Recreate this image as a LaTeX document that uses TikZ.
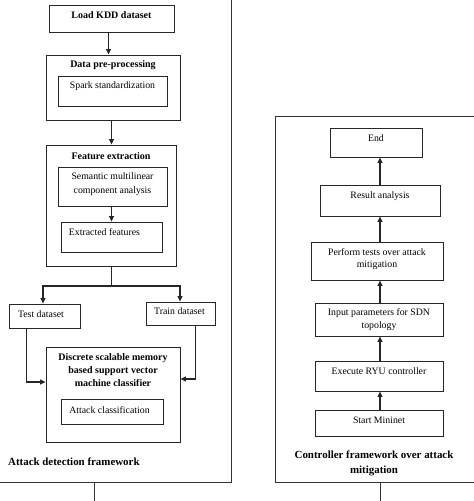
\documentclass[tikz,border=0pt]{standalone}
\usepackage{fontspec}
\setmainfont{Liberation Serif}
\usetikzlibrary{arrows.meta}
\begin{document}
\begin{tikzpicture}[x=1pt,y=-1pt,
  box/.style={draw=black!85, line width=0.8pt, rectangle, inner sep=0pt},
  lbl/.style={inner sep=0pt, font=\fontsize{9.8}{11}\selectfont, align=center},
  blbl/.style={inner sep=0pt, font=\fontsize{10}{13}\selectfont\bfseries, align=center},
  ftitle/.style={inner sep=0pt, font=\fontsize{10.9}{15}\selectfont\bfseries, align=center},
  frame/.style={draw=black!80, line width=0.8pt},
  arr/.style={draw=black!85, line width=1.2pt, -{Triangle[length=5.5pt,width=5pt]}},
  conn/.style={draw=black!85, line width=1.2pt}
]
\path[use as bounding box] (0,0) rectangle (474,501);
% frames
\coordinate (lf1) at (-3,482);
\coordinate (lf2) at (231,482);
\coordinate (lf3) at (231,-3);
\draw[frame] (lf1) -- (lf2) -- (lf3);
\coordinate (rf1) at (478,116);
\coordinate (rf2) at (275,116);
\coordinate (rf3) at (275,482);
\coordinate (rf4) at (478,482);
\draw[frame] (rf1) -- (rf2) -- (rf3) -- (rf4);
\coordinate (lo1) at (94,482);
\coordinate (lo2) at (94,504);
\draw[frame] (lo1) -- (lo2);
\coordinate (ro1) at (380,482);
\coordinate (ro2) at (380,504);
\draw[frame] (ro1) -- (ro2);

% left side
\node[box, minimum width=125, minimum height=27] (load) at (111.5,18.5) {};
\node[blbl] (loadt) at (111.5,15) {Load KDD dataset};
\node[box, minimum width=134, minimum height=65] (pre) at (113,87.5) {};
\node[blbl] (pret) at (113,65) {Data pre-processing};
\node[box, minimum width=109, minimum height=30] (spark) at (112.5,91) {};
\node[lbl] (sparkt) at (112.5,86) {Spark standardization};
\node[box, minimum width=130, minimum height=121] (feat) at (111,205.5) {};
\node[blbl] (featt) at (111,156) {Feature extraction};
\node[box, minimum width=109, minimum height=39] (sem) at (112.5,186.5) {};
\node[lbl, font=\fontsize{9.8}{13.5}\selectfont] (semt) at (112.5,184) {Semantic multilinear\\component analysis};
\node[box, minimum width=101, minimum height=30] (ext) at (111.5,237) {};
\node[lbl] (extt) at (104.5,232) {Extracted features};
\node[box, minimum width=71, minimum height=24] (test) at (44.5,316) {};
\node[lbl] (testt) at (41,314) {Test dataset};
\node[box, minimum width=69, minimum height=23] (train) at (180.5,313.5) {};
\node[lbl] (traint) at (179.5,311) {Train dataset};
\node[box, minimum width=134, minimum height=95] (disc) at (113,394.5) {};
\node[blbl] (disct) at (113,370.5) {Discrete scalable memory\\based support vector\\machine classifier};
\node[box, minimum width=102, minimum height=25] (atk) at (112,411.5) {};
\node[lbl] (atkt) at (109.5,410) {Attack classification};
\node[ftitle, anchor=west] (lt) at (8,462) {Attack detection framework};

% left connectors
\draw[arr] (load.south -| 108.5,0) -- (pre.north -| 108.5,0);
\draw[arr] (pre.south -| 111.5,0) -- (feat.north -| 111.5,0);
\draw[arr] (sem.south -| 111.5,0) -- (ext.north -| 111.5,0);
\coordinate (split) at (111.5,286);
\draw[conn] (feat.south -| split) -- (split);
\draw[arr] (split) -| (test.north -| 43,0);
\draw[arr] (split) -| (train.north -| 180,0);
\draw[arr] (test.south -| 26.5,0) |- (disc.west |- 0,382);
\draw[arr] (train.south -| 195.5,0) |- (disc.east |- 0,379);

% right side
\node[box, minimum width=92, minimum height=29] (end) at (376,142.5) {};
\node[lbl] (endt) at (376,138) {End};
\node[box, minimum width=120, minimum height=31] (res) at (380,200.5) {};
\node[lbl] (rest) at (380,196) {Result analysis};
\node[box, minimum width=132, minimum height=38] (perf) at (377,261) {};
\node[lbl, font=\fontsize{9.8}{12}\selectfont] (perft) at (377,259) {Perform tests over attack\\mitigation};
\node[box, minimum width=128, minimum height=33] (inp) at (379,319.5) {};
\node[lbl, font=\fontsize{9.8}{12.5}\selectfont] (inpt) at (379,319.5) {Input parameters for SDN\\topology};
\node[box, minimum width=128, minimum height=30] (exe) at (379,376) {};
\node[lbl] (exet) at (379,371) {Execute RYU controller};
\node[box, minimum width=128, minimum height=26] (start) at (379,423) {};
\node[lbl] (startt) at (379,420) {Start Mininet};
\node[ftitle] (rt) at (374,463.5) {Controller framework over attack\\mitigation};

% right connectors
\draw[arr] (start.north -| 380,0) -- (exe.south -| 380,0);
\draw[arr] (exe.north -| 380,0) -- (inp.south -| 380,0);
\draw[arr] (inp.north -| 380,0) -- (perf.south -| 380,0);
\draw[arr] (perf.north -| 380,0) -- (res.south -| 380,0);
\draw[arr] (res.north -| 380,0) -- (end.south -| 380,0);
\end{tikzpicture}
\end{document}
